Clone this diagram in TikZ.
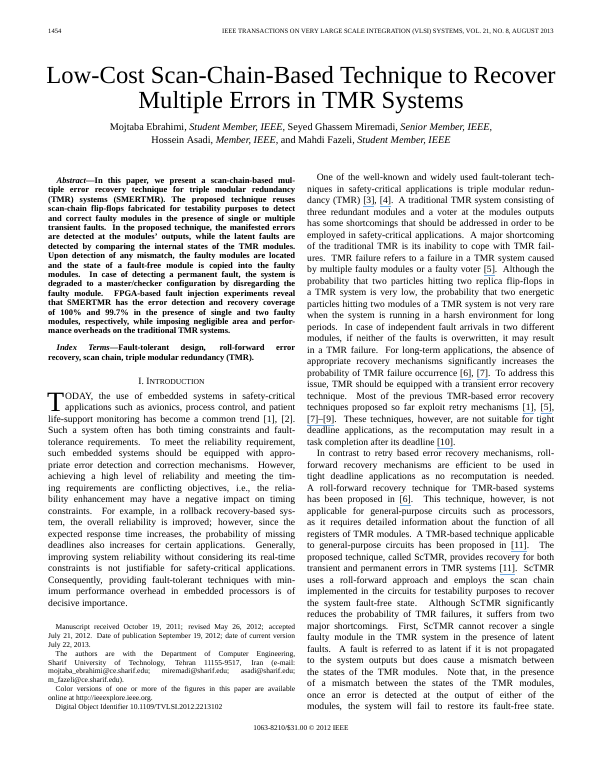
\documentclass[tikz,border=0pt]{standalone}
\usepackage{fontspec}
\setmainfont{Liberation Serif}
\definecolor{linkblue}{RGB}{110,170,230}
\newlength{\colw}
\setlength{\colw}{247pt}
\newcommand\jl[1]{\hbox to\colw{\spaceskip=.25em plus 3em minus .12em\relax #1}}
\newcommand\el[1]{\hbox to\colw{#1\hfil}}
\newcommand\cit[1]{\textcolor{linkblue}{\underline{\textcolor{black}{#1}}}}
\tikzset{
 col/.style={anchor=north west,inner sep=0pt,text width=247pt,align=justify},
 body/.style={font=\fontsize{9.6}{11.5}\selectfont},
 abs/.style={font=\fontsize{8.5}{9.4}\selectfont\bfseries},
 foot/.style={font=\fontsize{7.5}{8.9}\selectfont},
}
\begin{document}
\begin{tikzpicture}[x=1pt,y=-1pt]
\useasboundingbox (0,0) rectangle (600,776);
\fill[white] (0,0) rectangle (600,776);
% header
\node[anchor=base west,inner sep=0pt,font=\fontsize{6.6}{8}\selectfont] (pg) at (48,34) {1454};
\node[anchor=base east,inner sep=0pt,font=\fontsize{6.6}{8}\selectfont] (hd) at (554,34) {IEEE TRANSACTIONS ON VERY LARGE SCALE INTEGRATION (VLSI) SYSTEMS, VOL. 21, NO. 8, AUGUST 2013};
% title
\node[anchor=base,inner sep=0pt,font=\fontsize{24.6}{26}\selectfont] (t1) at (301,83) {Low-Cost Scan-Chain-Based Technique to Recover};
\node[anchor=base,inner sep=0pt,font=\fontsize{24.6}{26}\selectfont] (t2) at (301,108) {Multiple Errors in TMR Systems};
\node[anchor=base,inner sep=0pt,font=\fontsize{10.2}{12}\selectfont] (a1) at (301,130) {Mojtaba Ebrahimi, \textit{Student Member, IEEE}, Seyed Ghassem Miremadi, \textit{Senior Member, IEEE},};
\node[anchor=base,inner sep=0pt,font=\fontsize{10.2}{12}\selectfont] (a2) at (301,143) {Hossein Asadi, \textit{Member, IEEE}, and Mahdi Fazeli, \textit{Student Member, IEEE}};
% abstract
\node[col,abs] (ab) at (48,177.5) {%
\jl{\hspace{1em}\textit{Abstract}---In this paper, we present a scan-chain-based mul-}
\jl{tiple error recovery technique for triple modular redundancy}
\jl{(TMR) systems (SMERTMR). The proposed technique reuses}
\jl{scan-chain flip-flops fabricated for testability purposes to detect}
\jl{and correct faulty modules in the presence of single or multiple}
\jl{transient faults. In the proposed technique, the manifested errors}
\jl{are detected at the modules' outputs, while the latent faults are}
\jl{detected by comparing the internal states of the TMR modules.}
\jl{Upon detection of any mismatch, the faulty modules are located}
\jl{and the state of a fault-free module is copied into the faulty}
\jl{modules. In case of detecting a permanent fault, the system is}
\jl{degraded to a master/checker configuration by disregarding the}
\jl{faulty module. FPGA-based fault injection experiments reveal}
\jl{that SMERTMR has the error detection and recovery coverage}
\jl{of 100\% and 99.7\% in the presence of single and two faulty}
\jl{modules, respectively, while imposing negligible area and perfor-}
\el{mance overheads on the traditional TMR systems.}
};
\node[col,abs,font=\fontsize{8.5}{10.5}\selectfont\bfseries] (it) at (48,344) {%
\jl{\hspace{1em}\textit{Index Terms}---Fault-tolerant design, roll-forward error}
\el{recovery, scan chain, triple modular redundancy (TMR).}
};
\node[anchor=base,inner sep=0pt,font=\fontsize{9.6}{11}\selectfont] (sec) at (171.5,384) {I. I{\fontsize{7.6}{9}\selectfont NTRODUCTION}};
\node[anchor=base west,inner sep=0pt,font=\fontsize{28}{28}\selectfont] (dc) at (47,411) {T};
\node[col,body] (intro) at (48,392.5) {%
\jl{\hspace{17pt}ODAY, the use of embedded systems in safety-critical}
\jl{\hspace{17pt}applications such as avionics, process control, and patient}
\jl{life-support monitoring has become a common trend [1], [2].}
\jl{Such a system often has both timing constraints and fault-}
\jl{tolerance requirements. To meet the reliability requirement,}
\jl{such embedded systems should be equipped with appro-}
\jl{priate error detection and correction mechanisms. However,}
\jl{achieving a high level of reliability and meeting the tim-}
\jl{ing requirements are conflicting objectives, i.e., the relia-}
\jl{bility enhancement may have a negative impact on timing}
\jl{constraints. For example, in a rollback recovery-based sys-}
\jl{tem, the overall reliability is improved; however, since the}
\jl{expected response time increases, the probability of missing}
\jl{deadlines also increases for certain applications. Generally,}
\jl{improving system reliability without considering its real-time}
\jl{constraints is not justifiable for safety-critical applications.}
\jl{Consequently, providing fault-tolerant techniques with min-}
\jl{imum performance overhead in embedded processors is of}
\el{decisive importance.}
};
\node[col,foot] (fn) at (48,624) {%
\jl{\hspace{1em}Manuscript received October 19, 2011; revised May 26, 2012; accepted}
\jl{July 21, 2012. Date of publication September 19, 2012; date of current version}
\el{July 22, 2013.}
\jl{\hspace{1em}The authors are with the Department of Computer Engineering,}
\jl{Sharif University of Technology, Tehran 11155-9517, Iran (e-mail:}
\jl{mojtaba\_ebrahimi@ce.sharif.edu; miremadi@sharif.edu; asadi@sharif.edu;}
\el{m\_fazeli@ce.sharif.edu).}
\jl{\hspace{1em}Color versions of one or more of the figures in this paper are available}
\el{online at http://ieeexplore.ieee.org.}
\el{\hspace{1em}Digital Object Identifier 10.1109/TVLSI.2012.2213102}
};
\node[anchor=base,inner sep=0pt,font=\fontsize{7.3}{9}\selectfont] (cp) at (301,730) {1063-8210/\$31.00 \copyright{} 2012 IEEE};
% right column
\node[col,body] (rc) at (307,174) {%
\jl{\hspace{1em}One of the well-known and widely used fault-tolerant tech-}
\jl{niques in safety-critical applications is triple modular redun-}
\jl{dancy (TMR) \cit{[3]}, \cit{[4]}. A traditional TMR system consisting of}
\jl{three redundant modules and a voter at the modules outputs}
\jl{has some shortcomings that should be addressed in order to be}
\jl{employed in safety-critical applications. A major shortcoming}
\jl{of the traditional TMR is its inability to cope with TMR fail-}
\jl{ures. TMR failure refers to a failure in a TMR system caused}
\jl{by multiple faulty modules or a faulty voter \cit{[5]}. Although the}
\jl{probability that two particles hitting two replica flip-flops in}
\jl{a TMR system is very low, the probability that two energetic}
\jl{particles hitting two modules of a TMR system is not very rare}
\jl{when the system is running in a harsh environment for long}
\jl{periods. In case of independent fault arrivals in two different}
\jl{modules, if neither of the faults is overwritten, it may result}
\jl{in a TMR failure. For long-term applications, the absence of}
\jl{appropriate recovery mechanisms significantly increases the}
\jl{probability of TMR failure occurrence \cit{[6]}, \cit{[7]}. To address this}
\jl{issue, TMR should be equipped with a transient error recovery}
\jl{technique. Most of the previous TMR-based error recovery}
\jl{techniques proposed so far exploit retry mechanisms \cit{[1]}, \cit{[5]},}
\jl{\cit{[7]--[9]}. These techniques, however, are not suitable for tight}
\jl{deadline applications, as the recomputation may result in a}
\el{task completion after its deadline \cit{[10]}.}
\jl{\hspace{1em}In contrast to retry based error recovery mechanisms, roll-}
\jl{forward recovery mechanisms are efficient to be used in}
\jl{tight deadline applications as no recomputation is needed.}
\jl{A roll-forward recovery technique for TMR-based systems}
\jl{has been proposed in \cit{[6]}. This technique, however, is not}
\jl{applicable for general-purpose circuits such as processors,}
\jl{as it requires detailed information about the function of all}
\jl{registers of TMR modules. A TMR-based technique applicable}
\jl{to general-purpose circuits has been proposed in \cit{[11]}. The}
\jl{proposed technique, called ScTMR, provides recovery for both}
\jl{transient and permanent errors in TMR systems \cit{[11]}. ScTMR}
\jl{uses a roll-forward approach and employs the scan chain}
\jl{implemented in the circuits for testability purposes to recover}
\jl{the system fault-free state. Although ScTMR significantly}
\jl{reduces the probability of TMR failures, it suffers from two}
\jl{major shortcomings. First, ScTMR cannot recover a single}
\jl{faulty module in the TMR system in the presence of latent}
\jl{faults. A fault is referred to as latent if it is not propagated}
\jl{to the system outputs but does cause a mismatch between}
\jl{the states of the TMR modules. Note that, in the presence}
\jl{of a mismatch between the states of the TMR modules,}
\jl{once an error is detected at the output of either of the}
\jl{modules, the system will fail to restore its fault-free state.}
};
\end{tikzpicture}
\end{document}
